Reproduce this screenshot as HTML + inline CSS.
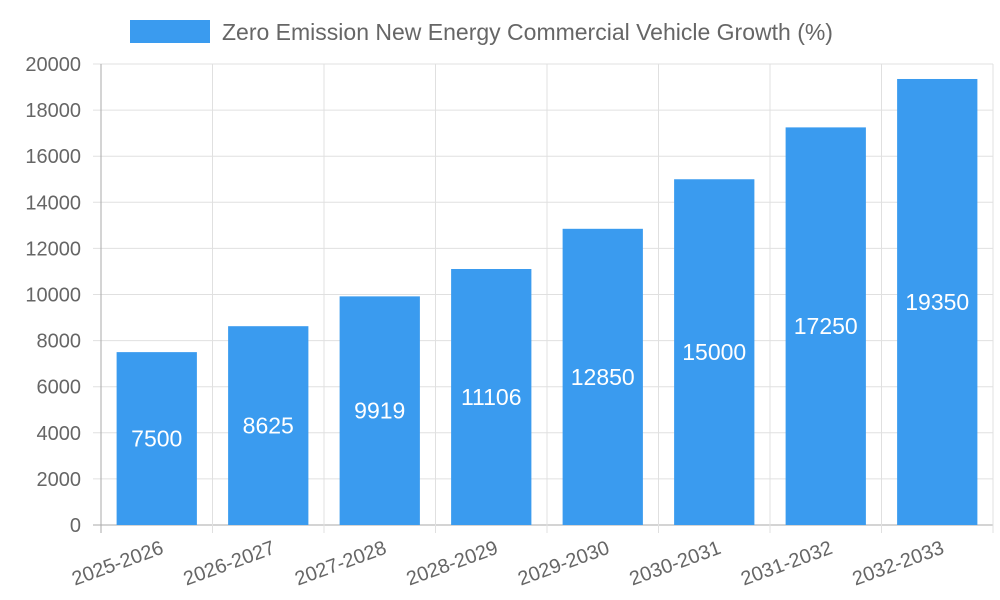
<!DOCTYPE html>
<html><head><meta charset="utf-8"><style>
body{margin:0;background:#fff;}
svg{display:block;font-family:"Liberation Sans",sans-serif;}
</style></head><body>
<svg id="chart" width="1000" height="600">
<g>
<rect x="130" y="20" width="80" height="23" fill="#3a9bef"/>
<text x="222" y="40" font-size="23" fill="#666">Zero Emission New Energy Commercial Vehicle Growth (%)</text>
</g>
<g id="grid"></g>
<g id="bars"></g>
<g id="axes"></g>
</svg>
<script>
const categories=["2025-2026","2026-2027","2027-2028","2028-2029","2029-2030","2030-2031","2031-2032","2032-2033"];
const values=[7500,8625,9919,11106,12850,15000,17250,19350];
const yTicks=[0,2000,4000,6000,8000,10000,12000,14000,16000,18000,20000];
const NS="http://www.w3.org/2000/svg";
const L=101,R=993,T=64,B=525,yMax=20000;
const bw=(R-L)/categories.length;
const x=i=>L+i*bw;
const y=v=>B-(v/yMax)*(B-T);
function mk(tag,attrs,parent,txt){const e=document.createElementNS(NS,tag);for(const k in attrs)e.setAttribute(k,attrs[k]);if(txt!==undefined)e.textContent=txt;parent.appendChild(e);return e;}
const grid=document.getElementById('grid'),bars=document.getElementById('bars'),axes=document.getElementById('axes');
yTicks.forEach(t=>{
 const g=mk('line',{x1:L-8,x2:R,y1:y(t),y2:y(t),stroke:t===0?'#aaa':'#e0e0e0','stroke-width':1},grid);
 
 
 const tx=mk('text',{x:L-20,y:y(t)+7,'font-size':20,fill:'#666','text-anchor':'end'},axes,String(t));
 
 
});
for(let i=0;i<=categories.length;i++){
 const g=mk('line',{x1:x(i),x2:x(i),y1:T,y2:B+8,stroke:i===0?'#aaa':'#e0e0e0','stroke-width':1},grid);
 
 
}
categories.forEach((c,i)=>{
 const w=bw*0.72,cx=x(i)+bw/2;
 const r=mk('rect',{x:cx-w/2,y:y(values[i]),width:w,height:B-y(values[i]),fill:'#3a9bef'},bars);
 
 
 const vl=mk('text',{x:cx,y:(y(values[i])+B)/2+8,'font-size':23,fill:'#fff','text-anchor':'middle'},bars,String(values[i]));
 
 
 const xl=mk('text',{x:cx+8,y:B+28,'font-size':20,fill:'#666','text-anchor':'end',transform:`rotate(-20 ${cx+8} ${B+28})`},axes,c);
 
 
});
</script>
</body></html>
